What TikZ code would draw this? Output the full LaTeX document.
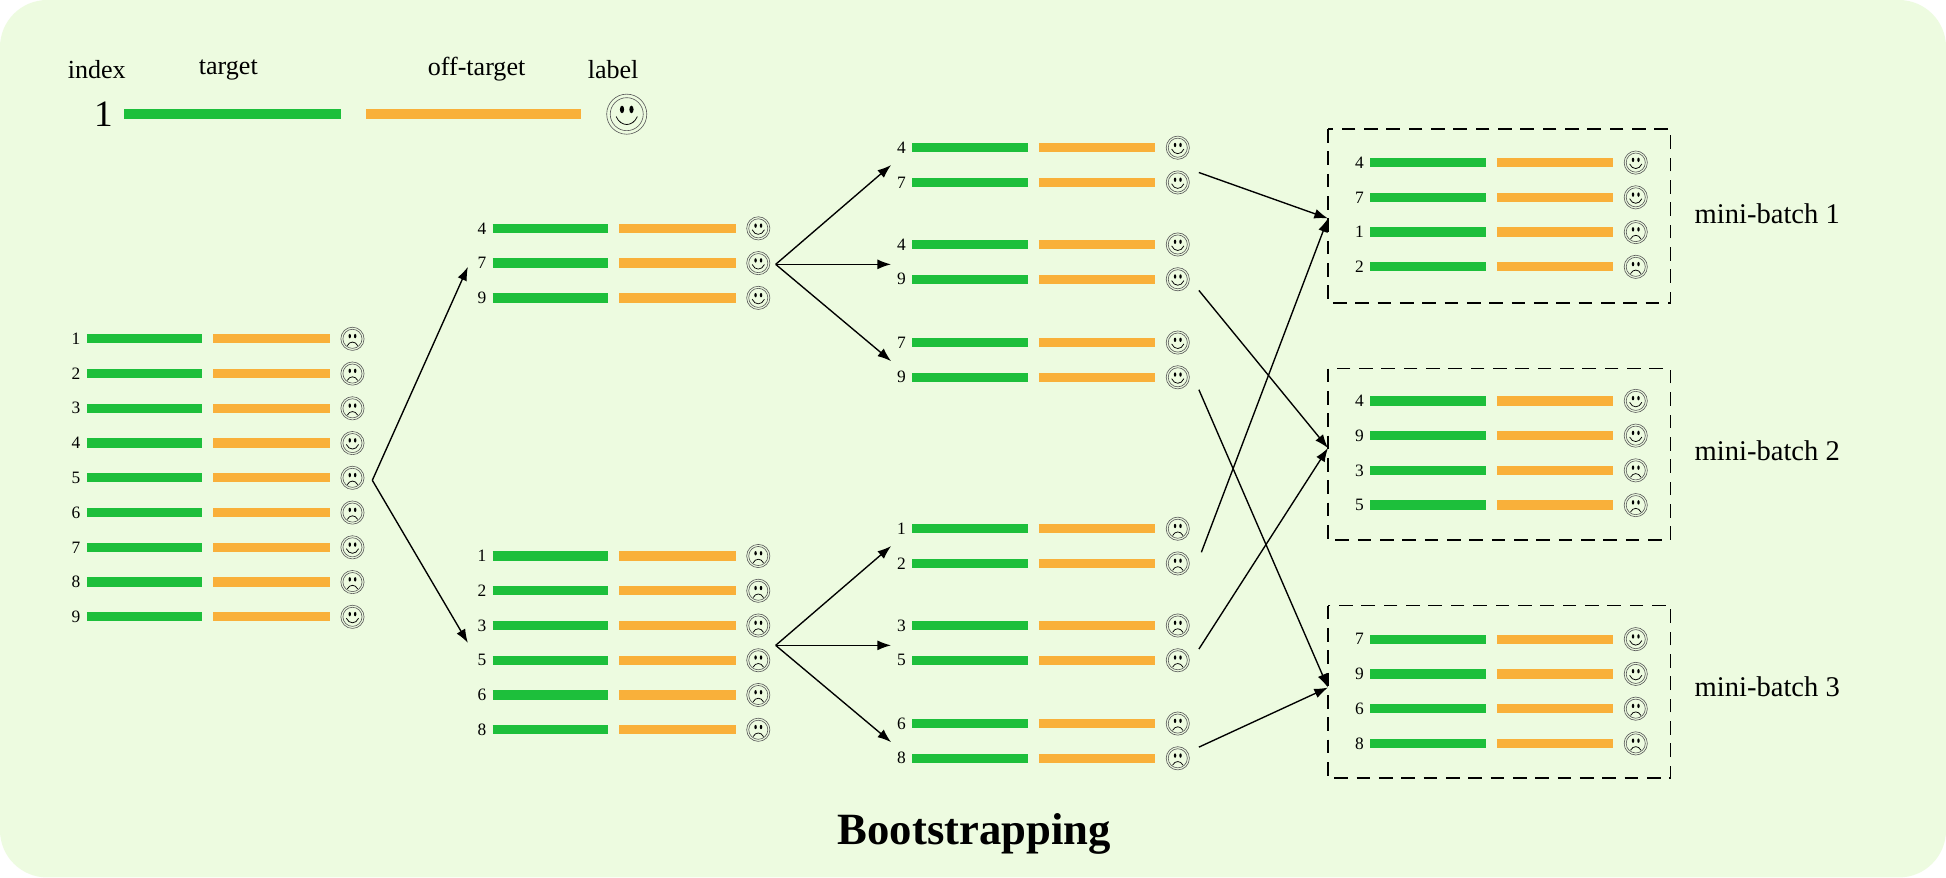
\documentclass[tikz,border=0pt]{standalone}
\usepackage{fontspec}
\setmainfont{Liberation Serif}
\usetikzlibrary{arrows.meta}
\begin{document}
\definecolor{bg}{HTML}{EDFBE0}
\definecolor{gbar}{HTML}{1DBF3B}
\definecolor{obar}{HTML}{F9B03A}
\tikzset{
  gb/.style={gbar,line width=7.5pt},
  ob/.style={obar,line width=7.5pt},
  num/.style={font=\fontsize{14}{14}\selectfont,anchor=east,inner sep=1pt},
  arr/.style={-{Latex[length=11pt,width=8pt]},line width=1.1pt},
  face/.pic={
    \draw[gray!70!black,line width=0.5pt] (0,0) circle (8.5);
    \draw[gray!70!black,line width=0.5pt] (0,0) circle (7);
    \fill (-2,-2) ellipse (0.9 and 1.6);
    \fill (2,-2) ellipse (0.9 and 1.6);
    \ifnum\facekind=1
      \draw[line width=0.6pt] (-4.5,1) .. controls (-2.5,5.5) and (2.5,5.5) .. (4.5,1);
    \else
      \draw[line width=0.6pt] (-3.8,5) .. controls (-2,1.5) and (2,1.5) .. (3.8,5);
    \fi
  }
}
\newcommand\facekind{1}
\newcommand\brow[5]{%
  \node[num] (#1) at (#2,#3) {#4};
  \draw[gb] (#2+4,#3) -- ++(93,0);
  \draw[ob] (#2+106,#3) -- ++(94,0);
  \renewcommand\facekind{#5}%
  \pic[scale=1.1] at (#2+218,#3) {face};
}
\begin{tikzpicture}[x=1pt,y=-1pt]
\useasboundingbox (0,0) rectangle (1568,707);
\fill[white] (0,0) rectangle (1568,707);
\fill[bg] (0,0) [rounded corners=38pt] rectangle (1568,707);
% legend
\node[font=\fontsize{21}{21}\selectfont] (lidx) at (78,56) {index};
\node[font=\fontsize{21}{21}\selectfont] (ltar) at (184,56) {target};
\node[font=\fontsize{21}{21}\selectfont] (loff) at (384,56) {off-target};
\node[font=\fontsize{21}{21}\selectfont] (llab) at (494,56) {label};
\node[font=\fontsize{30}{30}\selectfont,anchor=east,inner sep=1pt] (lone) at (92,92) {1};
\draw[gbar,line width=8.5pt] (100,92) -- (275,92);
\draw[obar,line width=8.5pt] (295,92) -- (468,92);
\renewcommand\facekind{1}
\pic[scale=1.9] at (505,92) {face};
% column 1
\brow{a1}{66}{273}{1}{0}
\brow{a2}{66}{301}{2}{0}
\brow{a3}{66}{329}{3}{0}
\brow{a4}{66}{357}{4}{1}
\brow{a5}{66}{385}{5}{0}
\brow{a6}{66}{413}{6}{0}
\brow{a7}{66}{441}{7}{1}
\brow{a8}{66}{469}{8}{0}
\brow{a9}{66}{497}{9}{1}
% column 2
\brow{b4}{393}{184}{4}{1}
\brow{b7}{393}{212}{7}{1}
\brow{b9}{393}{240}{9}{1}
\brow{c1}{393}{448}{1}{0}
\brow{c2}{393}{476}{2}{0}
\brow{c3}{393}{504}{3}{0}
\brow{c5}{393}{532}{5}{0}
\brow{c6}{393}{560}{6}{0}
\brow{c8}{393}{588}{8}{0}
% column 3
\brow{d4}{731}{119}{4}{1}
\brow{d7}{731}{147}{7}{1}
\brow{e4}{731}{197}{4}{1}
\brow{e9}{731}{225}{9}{1}
\brow{f7}{731}{276}{7}{1}
\brow{f9}{731}{304}{9}{1}
\brow{g1}{731}{426}{1}{0}
\brow{g2}{731}{454}{2}{0}
\brow{h3}{731}{504}{3}{0}
\brow{h5}{731}{532}{5}{0}
\brow{i6}{731}{583}{6}{0}
\brow{i8}{731}{611}{8}{0}
% mini-batches
\brow{m14}{1100}{131}{4}{1}
\brow{m17}{1100}{159}{7}{1}
\brow{m11}{1100}{187}{1}{0}
\brow{m12}{1100}{215}{2}{0}
\brow{m24}{1100}{323}{4}{1}
\brow{m29}{1100}{351}{9}{1}
\brow{m23}{1100}{379}{3}{0}
\brow{m25}{1100}{407}{5}{0}
\brow{m37}{1100}{515}{7}{1}
\brow{m39}{1100}{543}{9}{1}
\brow{m36}{1100}{571}{6}{0}
\brow{m38}{1100}{599}{8}{0}
\tikzset{box/.style={draw,dash pattern=on 11pt off 7pt,line width=1.1pt}}
\draw[box] (1070,104) rectangle (1346,244);
\draw[box] (1070,297) rectangle (1346,435);
\draw[box] (1070,488) rectangle (1346,627);
\node[font=\fontsize{23}{23}\selectfont,anchor=west] (mb1) at (1362,172) {mini-batch 1};
\node[font=\fontsize{23}{23}\selectfont,anchor=west] (mb2) at (1362,363) {mini-batch 2};
\node[font=\fontsize{23}{23}\selectfont,anchor=west] (mb3) at (1362,553) {mini-batch 3};
% arrow anchor points
\coordinate (v1) at (300,387);
\coordinate (t1) at (377,215);
\coordinate (t2) at (377,518);
\coordinate (v2) at (625,213);
\coordinate (v3) at (625,520);
\coordinate (u1) at (718,133);
\coordinate (u2) at (718,213);
\coordinate (u3) at (718,291);
\coordinate (u4) at (718,440);
\coordinate (u5) at (718,520);
\coordinate (u6) at (718,598);
\coordinate (s1) at (966,139);
\coordinate (s2) at (966,234);
\coordinate (s3) at (966,314);
\coordinate (s4) at (968,445);
\coordinate (s5) at (966,523);
\coordinate (s6) at (966,602);
\coordinate (k1) at (1070,176);
\coordinate (k2) at (1070,361);
\coordinate (k3) at (1070,554);
\draw[arr] (v1) -- (t1);
\draw[arr] (v1) -- (t2);
\foreach \a in {u1,u2,u3} \draw[arr] (v2) -- (\a);
\foreach \a in {u4,u5,u6} \draw[arr] (v3) -- (\a);
\draw[arr] (s1) -- (k1);
\draw[arr] (s2) -- (k2);
\draw[arr] (s3) -- (k3);
\draw[arr] (s4) -- (k1);
\draw[arr] (s5) -- (k2);
\draw[arr] (s6) -- (k3);
\node[font=\bfseries\fontsize{36}{36}\selectfont] (title) at (785,672) {Bootstrapping};
\end{tikzpicture}
\end{document}
